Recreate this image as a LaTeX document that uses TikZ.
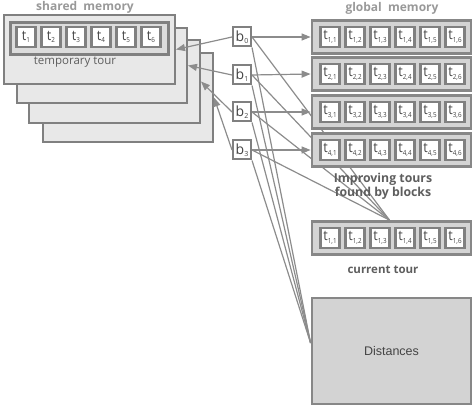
\documentclass[tikz,border=0pt]{standalone}
\usepackage{fontspec}
\setmainfont{Open Sans}
\newfontfamily\arialf{Liberation Sans}
\usetikzlibrary{arrows.meta}
\definecolor{bord}{HTML}{808080}
\definecolor{gbord}{HTML}{878787}
\definecolor{shfill}{HTML}{E8E8E8}
\definecolor{tmpfill}{HTML}{DCDCDC}
\definecolor{gfill}{HTML}{D4D4D4}
\definecolor{dfill}{HTML}{D3D3D3}
\definecolor{lbl}{HTML}{999999}
\definecolor{dlbl}{HTML}{5E5E5E}
\definecolor{txt}{HTML}{444444}
\definecolor{ln}{HTML}{8C8C8C}
\pgfdeclarelayer{background}
\pgfsetlayers{background,main}
\newcommand{\tcell}[1]{\scalebox{0.9}[1]{\fontsize{14}{14}\selectfont t\raisebox{-2.5pt}{\fontsize{7}{7}\selectfont #1}}}
\begin{document}
\begin{tikzpicture}[x=1pt,y=-1pt,
  shrect/.style={draw=bord,fill=shfill,line width=2pt,anchor=north west,inner sep=0},
  gbox/.style={draw=gbord,fill=gfill,line width=2.8pt,minimum width=159pt,minimum height=33pt,inner sep=0},
  cell/.style={draw=bord,fill=white,line width=2.2pt,minimum width=19pt,minimum height=20pt,inner sep=0,text=txt},
  bbox/.style={draw=bord,fill=white,line width=2pt,minimum width=18pt,minimum height=19pt,inner sep=0,text=txt},
  conn/.style={draw=ln,line width=1.2pt},
  arr/.style={conn,-{Triangle[length=9pt,width=7pt]}},
  title/.style={font=\bfseries\fontsize{12}{12}\selectfont,text=lbl},
  sub/.style={font=\bfseries\fontsize{12.3}{14}\selectfont,text=dlbl,align=center},
]
\useasboundingbox (0,0) rectangle (474,409);
% shared memory stack
\node[shrect,minimum width=170pt,minimum height=89pt] (sm4) at (42,52) {};
\node[shrect,minimum width=171pt,minimum height=83pt] (sm3) at (28,39) {};
\node[shrect,minimum width=170pt,minimum height=75pt] (sm2) at (16,27) {};
\node[shrect,minimum width=171pt,minimum height=69pt] (sm1) at (3,14) {};
\node[draw=bord,fill=tmpfill,line width=2.6pt,anchor=north west,inner sep=0,minimum width=158pt,minimum height=32pt] (tmp) at (9,21) {};
\foreach \i in {1,...,6}{
  \node[cell] (s\i) at ({26+25*(\i-1)},37) {\tcell{\i}};
}
\node[title] (shl) at (85,7) {shared\ \ memory};
\node[font=\fontsize{11.5}{11.5}\selectfont,text=dlbl] (tt) at (75,62) {temporary tour};
% blocks
\foreach \i/\y in {0/37,1/75,2/112,3/150}{
  \node[bbox] (b\i) at (242,\y) {\fontsize{14}{14}\selectfont b\raisebox{-2.5pt}{\fontsize{7}{7}\selectfont\i}};
}
% global memory
\node[title] (gml) at (392,8) {global\ \ memory};
\foreach \r/\y in {1/37,2/74,3/112,4/150}{
  \node[gbox] (g\r) at (391.5,\y) {};
  \foreach \j in {1,...,6}{
    \node[cell] (g\r c\j) at ({330+25*(\j-1)},\y) {\tcell{\r,\j}};
  }
}
\node[sub] (imp) at (383,186) {Improving tours\\found by blocks};
% current tour
\node[gbox] (ct) at (391.5,238) {};
\foreach \j in {1,...,6}{
  \node[cell] (ctc\j) at ({330+25*(\j-1)},238) {\tcell{1,\j}};
}
\node[sub,font=\bfseries\fontsize{11.5}{14}\selectfont] (ctl) at (383,270) {current tour};
% distances
\node[draw=gbord,fill=dfill,line width=2.8pt,minimum width=159pt,minimum height=106pt,inner sep=0,font=\arialf\fontsize{12.5}{12.5}\selectfont,text=txt] (dist) at (391.5,351) {Distances};
\coordinate (dconv) at ([yshift=8pt]dist.west);
\coordinate (cconv) at ([xshift=-2pt]ct.north);
% connectors behind
\begin{pgfonlayer}{background}
\foreach \i in {0,...,3}{
  \draw[conn] (b\i.east) -- (cconv);
  \draw[conn] (b\i.south east) -- (dconv);
}
\end{pgfonlayer}
% arrows
\draw[arr] (b0.east) -- (g1.west);
\draw[arr] (b1.east) -- (g2.west);
\draw[arr] (b2.east) -- (g3.west);
\draw[arr] (b3.east) -- (g4.west);
\draw[arr] (b0.west) -- (sm1.east);
\draw[arr] (b1.west) -- (sm2.east);
\draw[arr] (b2.west) -- (sm3.east);
\draw[arr] (b3.west) -- (sm4.east);
\end{tikzpicture}
\end{document}
